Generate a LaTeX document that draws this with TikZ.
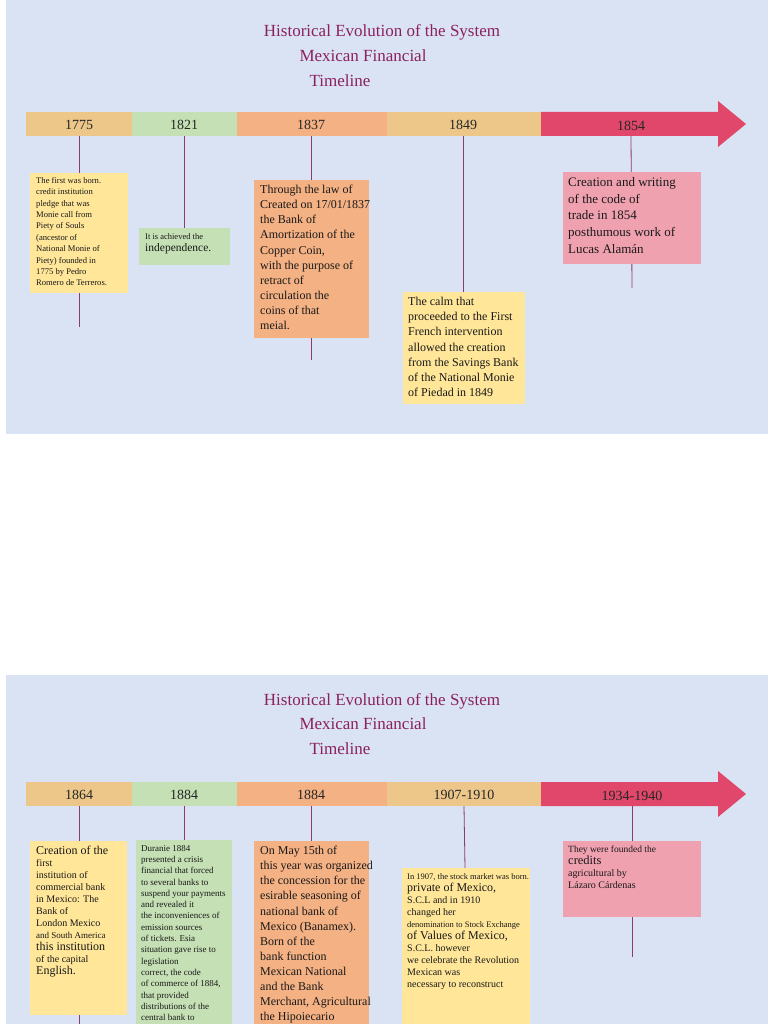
\documentclass[tikz,border=0pt]{standalone}
\usepackage{fontspec}
\setmainfont{Liberation Serif}
\definecolor{panel}{HTML}{DAE3F3}
\definecolor{ttl}{HTML}{8B2060}
\definecolor{cA}{HTML}{EDC78A}
\definecolor{cG}{HTML}{C5E0B4}
\definecolor{cO}{HTML}{F4B183}
\definecolor{cR}{HTML}{E0476A}
\definecolor{cY}{HTML}{FFE699}
\definecolor{cP}{HTML}{F0A1AF}
\definecolor{lnk}{HTML}{8E3A6E}
\newcommand{\fs}[2]{\fontsize{#1}{#2}\selectfont}
\tikzset{
  yr/.style={font=\fs{14}{16}, text=black!85},
  ttlstyle/.style={font=\fs{17}{20}, text=ttl},
  txt/.style={anchor=north west, align=left, inner sep=0pt, text=black!90},
  lk/.style={draw=lnk, line width=0.8pt},
}
\begin{document}
\begin{tikzpicture}[x=1pt,y=-1pt]
\useasboundingbox (0,0) rectangle (768,1024);
\fill[white] (0,0) rectangle (768,1024);
\fill[panel] (6,0) rectangle (768,434);
\fill[panel] (6,675) rectangle (768,1024);

% ---------- panel 1 ----------
\node[ttlstyle] (t1a) at (382,32) {Historical Evolution of the System};
\node[ttlstyle] (t1b) at (363,56) {Mexican Financial};
\node[ttlstyle] (t1c) at (340,81) {Timeline};
\fill[cA] (26,112) rectangle (132,136);
\fill[cG] (132,112) rectangle (237,136);
\fill[cO] (237,112) rectangle (387,136);
\fill[cA] (387,112) rectangle (541,136);
\fill[cR] (541,112) -- (718,112) -- (718,101) -- (746,124) -- (718,147) -- (718,136) -- (541,136) -- cycle;
\node[yr] (y1) at (79,125) {1775};
\node[yr] (y2) at (184,125) {1821};
\node[yr] (y3) at (311,125) {1837};
\node[yr] (y4) at (463,125) {1849};
\node[yr] (y5) at (631,126) {1854};
\coordinate (e1) at (79,327); \coordinate (e3) at (311,360); \coordinate (e5) at (632,288);
\draw[lk] (y1.south |- 0,136) -- (e1);
\draw[lk] (y2.south |- 0,136) -- (184,228);
\draw[lk] (y3.south |- 0,136) -- (e3);
\draw[lk] (y4.south |- 0,136) -- (463,292);
\draw[lk] (y5.south |- 0,136) -- (e5);

\fill[cY] (30,173) rectangle (128,293);
\node[txt, font=\fs{8.6}{11.4}] (b1) at (36,177) {The first was born.\\credit institution\\pledge that was\\Monie call from\\Piety of Souls\\(ancestor of\\National Monie of\\Piety) founded in\\1775 by Pedro\\Romero de Terreros.};
\fill[cG] (139,228) rectangle (230,265);
\node[txt] (b2) at (145,233) {\fs{8.5}{13}It is achieved the\\\fs{11.5}{14}independence.};
\fill[cO] (254,180) rectangle (369,338);
\node[txt, font=\fs{12}{15.1}] (b3) at (260,185) {Through the law of\\Created on 17/01/1837\\the Bank of\\Amortization of the\\Copper Coin,\\with the purpose of\\retract of\\circulation the\\coins of that\\meial.};
\fill[cY] (403,292) rectangle (525,404);
\node[txt, font=\fs{12}{15.2}] (b4) at (408,297) {The calm that\\proceeded to the First\\French intervention\\allowed the creation\\from the Savings Bank\\of the National Monie\\of Piedad in 1849};
\fill[cP] (563,172) rectangle (701,264);
\node[txt, font=\fs{13}{16.8}] (b5) at (568,177) {Creation and writing\\of the code of\\trade in 1854\\posthumous work of\\Lucas Alamán};

% ---------- panel 2 ----------
\node[ttlstyle] (t2a) at (382,701) {Historical Evolution of the System};
\node[ttlstyle] (t2b) at (363,724) {Mexican Financial};
\node[ttlstyle] (t2c) at (340,749) {Timeline};
\fill[cA] (26,782) rectangle (132,806);
\fill[cG] (132,782) rectangle (237,806);
\fill[cO] (237,782) rectangle (387,806);
\fill[cA] (387,782) rectangle (541,806);
\fill[cR] (541,782) -- (718,782) -- (718,771) -- (746,794) -- (718,817) -- (718,806) -- (541,806) -- cycle;
\node[yr] (z1) at (79,795) {1864};
\node[yr] (z2) at (184,795) {1884};
\node[yr] (z3) at (311,795) {1884};
\node[yr] (z4) at (464,795) {1907-1910};
\node[yr] (z5) at (632,796) {1934-1940};
\coordinate (f1) at (79,1024); \coordinate (f5) at (632,957);
\draw[lk] (z1.south |- 0,806) -- (f1);
\draw[lk] (z2.south |- 0,806) -- (184,840);
\draw[lk] (z3.south |- 0,806) -- (311,841);
\draw[lk] (z4.south |- 0,806) -- (465,868);
\draw[lk] (z5.south |- 0,806) -- (f5);

\fill[cY] (30,841) rectangle (127,1015);
\node[txt] (c1) at (36,846) {\fs{12}{15.3}Creation of the\\first\\institution of\\commercial bank\\in Mexico: The\\Bank of\\London Mexico\\\fs{9}{14}and South America\\\fs{12}{15.5}this institution\\\fs{10}{14.5}of the capital\\\fs{12}{16}English.};
\fill[cG] (136,840) rectangle (232,1024);
\node[txt, font=\fs{9}{11.3}] (c2) at (141,845) {Duranie 1884\\presented a crisis\\financial that forced\\to several banks to\\suspend your payments\\and revealed it\\the inconveniences of\\emission sources\\of tickets. Esia\\situation gave rise to\\legislation\\correct, the code\\of commerce of 1884,\\that provided\\distributions of the\\central bank to};
\fill[cO] (254,841) rectangle (369,1024);
\node[txt, font=\fs{12}{15.1}] (c3) at (260,846) {On May 15th of\\this year was organized\\the concession for the\\esirable seasoning of\\national bank of\\Mexico (Banamex).\\Born of the\\bank function\\Mexican National\\and the Bank\\Merchant, Agricultural\\the Hipoiecario};
\fill[cY] (402,868) rectangle (530,1024);
\node[txt] (c4) at (407,873) {\fs{8.5}{13}In 1907, the stock market was born.\\\fs{12}{15}private of Mexico,\\S.C.L and in 1910\\changed her\\\fs{8.5}{13}denomination to Stock Exchange\\\fs{12}{15}of Values of Mexico,\\S.C.L. however\\we celebrate the Revolution\\Mexican was\\necessary to reconstruct};
\fill[cP] (563,841) rectangle (701,917);
\node[txt] (c5) at (568,846) {\fs{9.5}{14}They were founded the\\\fs{12.5}{17}credits\\agricultural by\\Lázaro Cárdenas};
\end{tikzpicture}
\end{document}
